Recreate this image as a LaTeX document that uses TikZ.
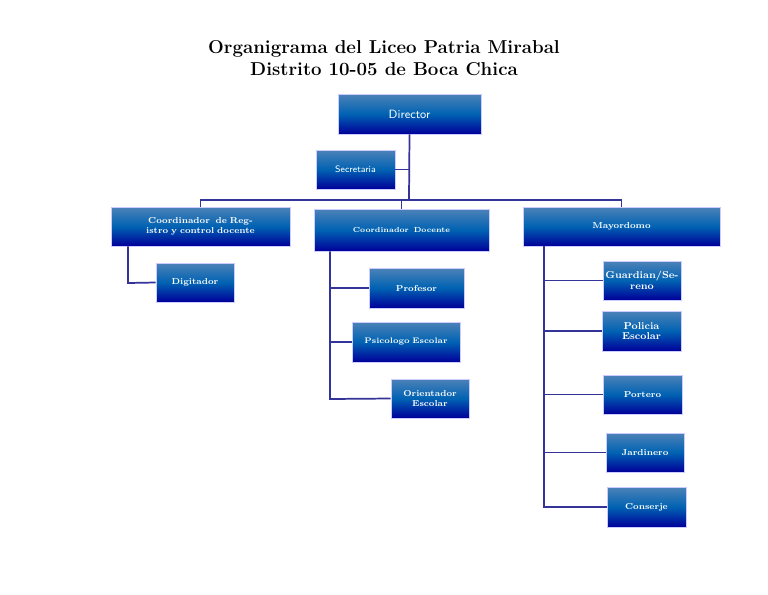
\documentclass[tikz,border=0pt]{standalone}
\begin{document}
\begin{tikzpicture}[x=0.75pt,y=-0.75pt,
  bx/.style={rectangle,draw=blue!20!white,line width=0.6pt,top color=blue!50!cyan!60!black!70!white,bottom color=blue!60!black,middle color=blue!45!cyan!70!black,
    text=white,font=\bfseries\fontsize{6.5}{7}\selectfont,align=center,inner sep=1pt},
  ln/.style={draw=blue!50!black!80!white,line width=1.3pt}]
\useasboundingbox (0,0) rectangle (768,594);
\newcommand\bxnode[6][]{\node[bx,#1,minimum width={(#4-#2)*0.75pt},minimum height={(#5-#3)*0.75pt},text width={(#4-#2)*0.75pt-3pt}] (#6) at ({(#2+#4)/2},{(#3+#5)/2})}
\node[font=\bfseries\fontsize{14}{16}\selectfont,align=center] (title) at (384,58) {Organigrama del Liceo Patria Mirabal\\Distrito 10-05 de Boca Chica};
\bxnode[font=\sffamily\fontsize{9}{10}\selectfont]{338}{94}{481}{134}{dir}{Director};
\bxnode[font=\sffamily\fontsize{7}{8}\selectfont]{316}{150}{395}{189}{sec}{Secretaria};
\bxnode{111}{207}{290}{246}{creg}{Coordinador\ \ de Registro y control docente};
\bxnode[font=\bfseries\fontsize{5.5}{6}\selectfont]{314}{209}{489}{251}{cdoc}{Coordinador\ \ Docente};
\bxnode{523}{207}{720}{246}{may}{Mayordomo};
\bxnode{156}{263}{234}{302}{dig}{Digitador};
\bxnode{369}{268}{464}{308}{prof}{Profesor};
\bxnode[font=\bfseries\fontsize{6}{7}\selectfont]{352}{322}{460}{362}{psi}{Psicologo Escolar};
\bxnode{391}{379}{469}{418}{ori}{Orientador Escolar};
\bxnode[font=\bfseries\fontsize{7.5}{8}\selectfont]{603}{261}{681}{300}{gua}{Guardian/Se\-reno};
\bxnode[font=\bfseries\fontsize{7.5}{8}\selectfont]{602}{311}{681}{351}{pol}{Policia Escolar};
\bxnode{603}{375}{682}{414}{por}{Portero};
\bxnode{606}{433}{684}{472}{jar}{Jardinero};
\bxnode{607}{487}{686}{527}{con}{Conserje};
\coordinate (bus) at (409,200);
\coordinate (dv) at (330,399);
\coordinate (mv) at (544,507);
\coordinate (rv) at (128,283);
\begin{scope}[on background layer/.style={}]
\draw[ln] (dir.south) -- (bus);
\draw[ln] (sec.east) -- (sec.east -| bus);
\draw[ln] (creg.north) |- (bus) -| (may.north);
\draw[ln] (cdoc.north) -- (cdoc.north |- bus);
\draw[ln] (creg.south -| rv) -- (rv) -- (dig.west);
\draw[ln] (cdoc.south -| dv) -- (dv) -- (ori.west);
\draw[ln] (prof.west) -- (prof.west -| dv);
\draw[ln] (psi.west) -- (psi.west -| dv);
\draw[ln] (may.south -| mv) -- (mv) -- (con.west);
\draw[ln] (gua.west) -- (gua.west -| mv);
\draw[ln] (pol.west) -- (pol.west -| mv);
\draw[ln] (por.west) -- (por.west -| mv);
\draw[ln] (jar.west) -- (jar.west -| mv);
\end{scope}
\end{tikzpicture}
\end{document}
